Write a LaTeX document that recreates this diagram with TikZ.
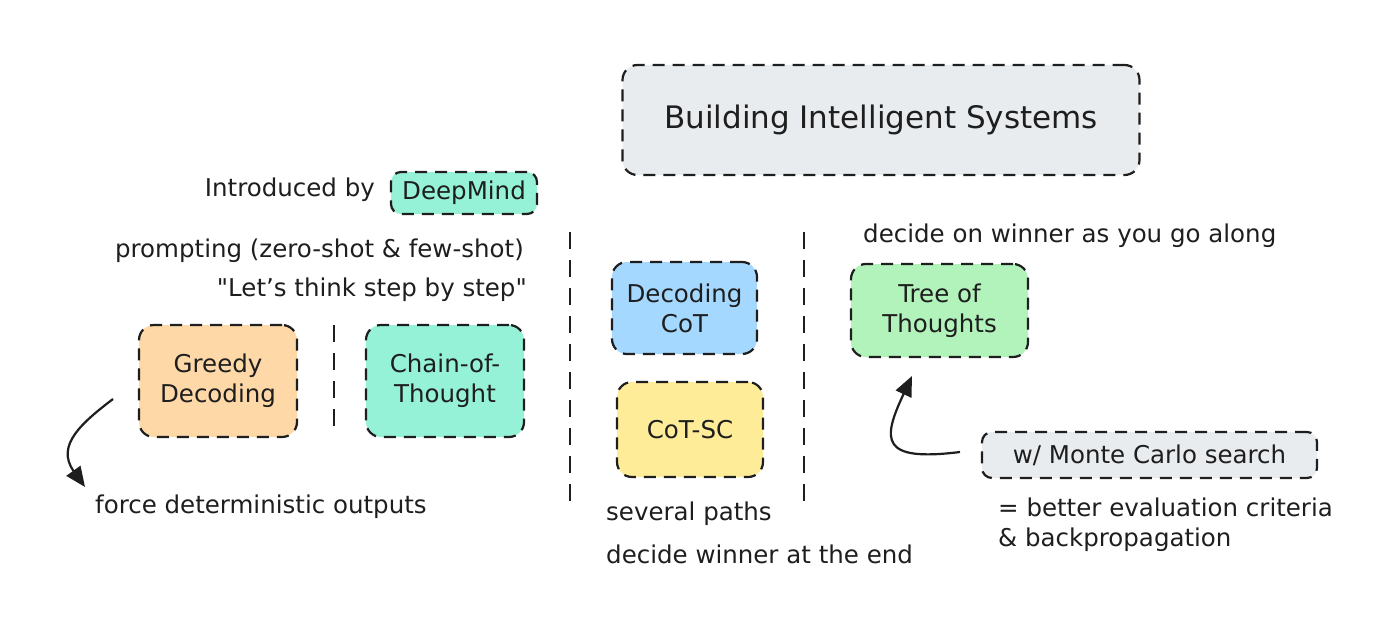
\documentclass[tikz,border=0pt]{standalone}
\usepackage{fontspec}
\setmainfont{DejaVu Sans}[Ligatures=TeXOff]
\usetikzlibrary{arrows.meta}
\definecolor{ink}{HTML}{1E1E1E}
\definecolor{cgray}{HTML}{E9ECEF}
\definecolor{cteal}{HTML}{96F2D7}
\definecolor{corange}{HTML}{FFD8A8}
\definecolor{cblue}{HTML}{A5D8FF}
\definecolor{cyellow}{HTML}{FFEC99}
\definecolor{cgreen}{HTML}{B2F2BB}
\tikzset{
  dbox/.style={draw=ink, line width=2.2pt, dash pattern=on 12pt off 8pt, rounded corners=15pt,
    align=center, inner sep=0pt, font=\fontsize{24.5}{30}\selectfont, text=ink},
  lbl/.style={inner sep=0pt, font=\fontsize{24.5}{30}\selectfont, text=ink},
  sep/.style={draw=ink, line width=2.6pt, dash pattern=on 17pt off 11pt},
  conn/.style={draw=ink, line width=2.2pt, -{Triangle[length=20pt,width=17pt]}},
}
\begin{document}
\begin{tikzpicture}[x=1pt,y=-1pt]
\useasboundingbox (0,0) rectangle (1400,629);
% boxes
\node[dbox, fill=cgray, minimum width=517pt, minimum height=110pt, font=\fontsize{31}{36}\selectfont] (title) at (881,120) {Building Intelligent Systems};
\node[dbox, fill=cteal, minimum width=146pt, minimum height=42pt, rounded corners=10pt] (deepmind) at (464,193) {DeepMind};
\node[dbox, fill=corange, minimum width=158pt, minimum height=112pt] (greedy) at (218,381) {Greedy\\Decoding};
\node[dbox, fill=cteal, minimum width=158pt, minimum height=112pt] (cot) at (445,381) {Chain-of-\\Thought};
\node[dbox, fill=cblue, minimum width=145pt, minimum height=92pt] (dcot) at (684.5,308) {Decoding\\CoT};
\node[dbox, fill=cyellow, minimum width=146pt, minimum height=95pt] (cotsc) at (690,429.5) {CoT-SC};
\node[dbox, fill=cgreen, minimum width=177pt, minimum height=93pt] (tot) at (939.5,310.5) {Tree of\\Thoughts};
\node[dbox, fill=cgray, minimum width=335pt, minimum height=46pt, rounded corners=10pt] (mc) at (1149.5,455) {w/ Monte Carlo search};
% labels
\node[lbl, anchor=east] (intro) at (375,190) {Introduced by};
\node[lbl, anchor=east] (prompt) at (524,251) {prompting (zero-shot \& few-shot)};
\node[lbl, anchor=east] (lets) at (527,290) {"Let’s think step by step"};
\node[lbl, anchor=west] (force) at (95,507) {force deterministic outputs};
\node[lbl, anchor=west] (several) at (606,514) {several paths};
\node[lbl, anchor=west] (winend) at (606,554) {decide winner at the end};
\node[lbl, anchor=west] (wingo) at (863,236) {decide on winner as you go along};
\node[lbl, anchor=west] (better) at (998,507) {= better evaluation criteria};
\node[lbl, anchor=west] (backp) at (998,540) {\& backpropagation};
% separators
\draw[sep] (334,325) -- (334,430);
\draw[sep] (570,232) -- (570,510);
\draw[sep] (804,232) -- (804,510);
% connectors
\coordinate (gs) at (113,399);
\coordinate (ge) at (85,487);
\draw[conn] (gs) .. controls (83,422) and (55,445) .. (ge);
\coordinate (ms) at (960,452);
\coordinate (me) at (912,376);
\draw[conn] (ms) .. controls (880,462) and (882,440) .. (me);
\end{tikzpicture}
\end{document}
